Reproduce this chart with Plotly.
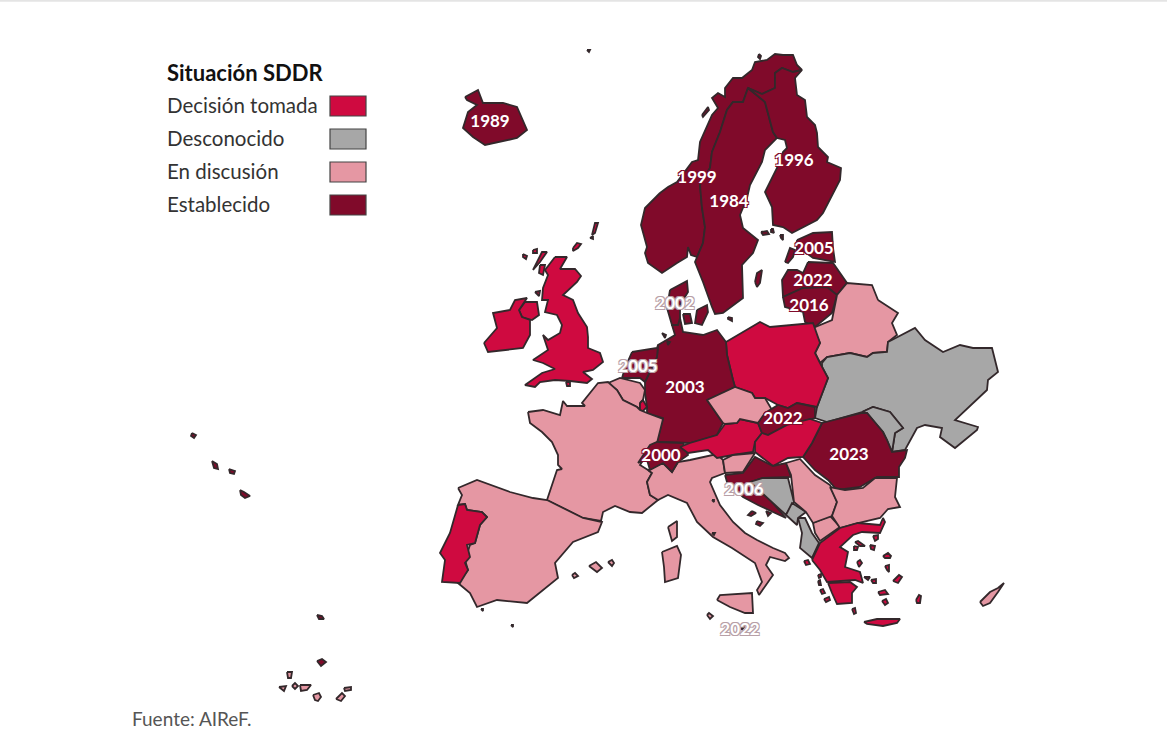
import plotly.graph_objects as go

# ---- categories and colours
STATUS_NAMES = ["Decisión tomada", "Desconocido", "En discusión", "Establecido"]
STATUS_COLORS = ["#CF0A40", "#A7A7A7", "#E597A3", "#800A2A"]
D, U, P, E = STATUS_NAMES

# ---- country outlines in map units
ICELAND = [(465,97),(478,90),(483,103),(503,103),(517,107),(527,130),(517,138),(485,145),(473,137),(463,128),(468,112),(477,105),(467,100)]
NORWAY = [(660,193),(668,187),(677,182),(692,162),(698,160),(700,142),(712,115),(718,108),(712,98),(718,93),(725,97),(725,88),(733,78),(742,78),(752,70),(755,62),(767,60),(775,54),(783,55),(793,55),(797,65),(802,70),(793,72),(782,68),(775,73),(775,88),(762,94),(748,88),(743,102),(733,102),(727,110),(720,132),(712,152),(710,168),(700,185),(702,208),(705,227),(703,243),(697,257),(691,255),(688,247),(687,257),(677,263),(662,273),(648,263),(645,253),(647,247),(641,225),(645,208),(655,198)]
SWEDEN = [(748,88),(765,102),(773,132),(777,138),(765,150),(762,162),(750,185),(747,198),(740,215),(743,228),(758,240),(753,253),(742,265),(743,298),(723,313),(715,314),(712,307),(703,282),(695,262),(697,257),(703,243),(705,227),(702,208),(700,185),(710,168),(712,152),(720,132),(727,110),(733,102),(743,102)]
FINLAND = [(802,70),(795,78),(797,95),(805,100),(807,117),(815,125),(817,133),(818,147),(828,157),(827,162),(841,168),(840,180),(823,213),(817,220),(792,233),(783,227),(773,225),(772,207),(765,192),(767,188),(777,168),(783,152),(787,148),(785,140),(777,138),(773,132),(765,102),(748,88),(762,94),(775,88),(775,73),(782,68),(793,72)]
ESTONIA = [(797,240),(813,233),(832,232),(833,248),(835,262),(813,258),(805,252),(797,250)]
LATVIA = [(808,262),(833,263),(847,283),(837,295),(827,287),(803,288),(783,297),(782,280),(788,270),(797,270),(803,273)]
LITHUANIA = [(783,297),(803,288),(827,287),(837,295),(832,313),(815,327),(805,322),(803,312),(785,307)]
BELARUS = [(878,300),(898,313),(892,323),(897,335),(888,342),(887,352),(873,353),(867,357),(850,353),(827,357),(820,363),(815,353),(820,343),(813,328),(832,320),(837,295),(847,283),(872,285)]
UKRAINE = [(822,363),(827,357),(850,353),(867,357),(873,353),(887,352),(888,342),(915,328),(925,340),(943,352),(960,345),(973,348),(992,348),(998,372),(988,380),(987,390),(955,420),(978,427),(977,430),(955,448),(940,437),(942,428),(925,425),(917,428),(905,450),(892,452),(895,433),(903,428),(890,412),(873,407),(862,412),(827,422),(815,418),(817,407),(828,378),(822,367)]
MOLDOVA = [(862,412),(873,407),(890,412),(903,428),(895,433),(892,452),(887,440),(883,432),(877,425),(867,413)]
ROMANIA = [(822,423),(862,413),(867,413),(877,425),(883,432),(887,440),(892,452),(907,450),(905,458),(899,467),(899,477),(877,477),(860,487),(837,490),(828,480),(815,470),(803,457),(812,443)]
POLAND = [(726,342),(760,322),(770,327),(813,323),(820,343),(815,353),(820,363),(822,367),(828,378),(817,407),(797,403),(788,408),(778,405),(765,398),(755,398),(752,393),(735,387),(733,380),(727,355)]
GERMANY = [(726,342),(717,330),(703,335),(683,332),(680,318),(672,325),(675,335),(658,345),(657,357),(645,382),(645,393),(647,407),(647,413),(663,418),(657,442),(690,443),(717,435),(723,423),(707,400),(735,387),(733,380),(727,355)]
DENMARK = [(670,290),(687,281),(688,292),(680,305),(680,318),(678,325),(672,325),(667,308)]
ZEALAND = [(697,310),(707,305),(708,312),(702,325),(695,323)]
FUNEN = [(683,314),(690,314),(692,323),(685,324)]
NETHERLANDS = [(632,352),(657,348),(658,345),(657,357),(645,382),(640,378),(622,378),(625,368)]
BELGIUM = [(608,383),(620,378),(640,383),(645,390),(643,400),(640,403),(640,410),(637,407),(623,400),(617,390)]
LUXEMBOURG = [(640,403),(643,400),(647,407),(643,411),(640,410)]
FRANCE = [(528,412),(543,410),(560,415),(563,401),(567,406),(585,406),(582,403),(598,383),(608,382),(617,390),(623,400),(637,407),(640,410),(647,413),(663,419),(658,437),(657,443),(648,452),(640,465),(648,470),(652,473),(647,482),(650,495),(658,500),(642,513),(630,512),(615,506),(603,512),(601,521),(583,518),(573,513),(547,500),(557,470),(562,469),(558,465),(558,455),(552,442),(542,432),(530,423)]
SPAIN = [(458,488),(477,480),(510,492),(533,498),(547,500),(573,513),(583,518),(602,522),(598,532),(573,542),(555,563),(558,578),(527,603),(497,600),(477,607),(470,593),(458,583),(468,570),(465,560),(470,545),(475,543),(480,525),(487,517),(482,512),(467,510),(465,504),(458,505),(462,495)]
PORTUGAL = [(458,505),(465,504),(467,510),(482,512),(487,517),(480,525),(475,543),(467,545),(470,557),(465,563),(468,570),(460,583),(442,582),(445,560),(440,553),(450,533)]
ITALY = [(648,470),(663,463),(672,472),(678,462),(690,460),(717,454),(723,460),(725,473),(712,478),(710,482),(720,505),(733,522),(745,533),(757,540),(773,548),(785,553),(789,558),(785,561),(770,557),(766,565),(773,575),(759,595),(757,590),(762,582),(755,563),(732,548),(713,537),(697,522),(687,503),(668,495),(658,500),(650,495),(647,482),(652,473)]
SICILY = [(717,600),(720,595),(752,593),(753,613),(745,613),(730,607)]
CORSICA = [(668,527),(677,521),(677,537),(672,541)]
SARDINIA = [(662,552),(677,546),(681,555),(678,578),(665,582),(664,567)]
MALLORCA = [(589,566),(596,562),(602,568),(597,572)]
SWITZERLAND = [(638,463),(650,445),(657,442),(683,443),(688,455),(678,462),(672,472),(663,463),(650,470),(647,460)]
AUSTRIA = [(680,447),(690,443),(717,435),(725,424),(737,423),(740,419),(758,423),(762,433),(755,442),(753,452),(733,455),(717,458),(708,450),(688,453)]
CZECHIA = [(707,400),(735,387),(752,393),(755,398),(765,398),(772,410),(758,423),(740,419),(737,423),(725,424),(723,423)]
SLOVAKIA = [(758,423),(765,413),(778,405),(788,408),(797,403),(815,407),(815,418),(807,420),(787,425),(768,435),(762,433)]
HUNGARY = [(762,433),(768,435),(787,425),(810,419),(822,423),(812,443),(803,457),(788,458),(773,466),(755,452),(755,442)]
SLOVENIA = [(723,460),(733,455),(755,453),(743,472),(725,473)]
CROATIA = [(725,475),(743,473),(755,457),(773,466),(786,463),(791,477),(763,478),(750,482),(770,500),(786,518),(758,505),(743,497),(727,482)]
BOSNIA = [(750,482),(763,478),(788,478),(794,502),(786,515),(770,500)]
MONTENEGRO = [(786,515),(792,503),(806,512),(798,518),(797,525)]
ALBANIA = [(798,518),(805,518),(812,533),(819,543),(812,558),(800,548),(802,533)]
MACEDONIA = [(813,523),(830,516),(840,527),(820,541),(815,533)]
SERBIA = [(786,463),(800,459),(815,475),(830,485),(837,502),(832,516),(813,523),(806,512),(794,502),(791,475)]
BULGARIA = [(830,487),(845,490),(863,488),(875,478),(897,478),(895,497),(900,507),(888,509),(880,518),(858,523),(840,528),(832,516),(837,502)]
GREECE = [(812,560),(820,543),(840,528),(858,523),(880,525),(883,518),(885,522),(880,533),(862,532),(853,535),(840,547),(848,552),(845,567),(860,572),(863,583),(855,580),(827,582),(820,570)]
PELOPONNESE = [(828,583),(850,582),(857,587),(852,593),(852,603),(837,604),(832,593)]
CRETE = [(864,622),(877,619),(900,619),(897,623),(883,626),(867,624)]
CYPRUS = [(980,602),(990,592),(998,588),(1004,583),(998,592),(990,603),(983,606)]
GREAT_BRITAIN = [(555,257),(567,257),(560,269),(575,269),(581,276),(577,282),(563,295),(573,300),(578,313),(587,327),(588,337),(588,348),(600,353),(603,362),(593,370),(583,372),(592,379),(587,383),(570,381),(555,380),(540,382),(535,387),(525,385),(542,373),(555,369),(543,363),(533,360),(548,350),(543,335),(548,340),(560,333),(562,325),(557,315),(545,312),(548,300),(542,300),(543,288),(548,275),(545,270)]
N_IRELAND = [(519,310),(525,302),(537,302),(539,315),(532,320),(522,317)]
IRELAND = [(484,343),(497,328),(493,313),(510,310),(515,300),(527,298),(519,310),(522,317),(530,320),(530,335),(523,348),(488,352)]
SCOT_ISLES = [
    [(533,270),(542,252),(547,252),(540,262)],
    [(540,265),(545,265),(543,275),(539,273)],
    [(533,250),(537,249),(537,253),(533,253)],
    [(523,254),(527,256),(526,259),(523,257)],
    [(535,292),(540,291),(539,296)],
    [(573,248),(577,243),(581,244),(578,248),(573,251)],
    [(592,235),(595,223),(598,223),(595,233)],
    [(590,238),(593,236),(593,239)],
    [(566,382),(570,382),(570,386),(567,386)],
]
NORDIC_ISLES = [
    [(702,115),(708,107),(709,110),(703,117)],
    [(759,54),(761,56),(760,59),(758,57)],
    [(587,50),(590,50),(589,52)],
    [(761,232),(767,231),(769,234),(763,235)],
    [(771,229),(773,229),(774,233),(771,232)],
    [(780,235),(783,235),(783,240),(781,238)],
    [(755,282),(757,273),(762,270),(760,283),(757,287)],
    [(785,262),(790,248),(795,250),(793,257),(788,263)],
    [(728,317),(732,318),(732,321),(728,319)],
    [(662,333),(666,335),(665,338)],
    [(667,341),(670,342),(668,345)],
    [(752,511),(756,513),(751,516),(748,515)],
    [(766,511),(771,513),(768,516)],
    [(757,521),(763,523),(760,526),(756,524)],
    [(192,433),(196,435),(194,438),(191,436)],
    [(212,461),(217,464),(218,469),(214,468)],
    [(229,469),(235,471),(234,474),(230,473)],
    [(240,490),(244,492),(250,496),(245,498),(241,495)],
    [(317,615),(322,616),(324,619),(319,619)],
    [(317,661),(322,659),(326,662),(321,666)],
    [(741,626),(744,627),(742,630)],
    [(481,609),(483,609),(483,611)],
    [(511,625),(513,625),(513,627)],
    [(712,500),(714,500),(714,502)],
    [(712,533),(715,533),(714,535)],
]
SPAIN_ISLES = [
    [(608,562),(612,560),(614,563),(612,566)],
    [(572,575),(575,573),(578,576),(574,578)],
    [(707,615),(709,613),(713,616),(710,619)],
    [(287,672),(292,672),(291,678),(288,678)],
    [(279,687),(286,686),(284,691)],
    [(292,686),(295,683),(298,686),(295,689)],
    [(300,685),(311,685),(307,690),(301,691)],
    [(313,695),(319,693),(321,697),(318,701),(315,700)],
    [(336,699),(342,693),(345,696),(341,701)],
    [(344,688),(351,687),(351,690),(345,691)],
]
GREEK_ISLES = [
    [(873,536),(878,535),(878,539),(875,541)],
    [(855,542),(858,541),(865,546),(860,546)],
    [(854,546),(858,547),(857,550),(854,550)],
    [(870,545),(875,546),(874,550),(871,549)],
    [(883,556),(888,553),(891,556),(890,558),(885,558)],
    [(857,562),(860,560),(862,563),(859,567)],
    [(885,566),(889,565),(889,572),(887,570)],
    [(893,581),(899,575),(902,577),(898,583)],
    [(864,577),(870,577),(868,580)],
    [(871,580),(876,579),(876,583),(873,583)],
    [(878,592),(885,590),(888,594),(880,595)],
    [(882,601),(886,599),(888,603),(885,605)],
    [(916,600),(919,595),(921,596),(920,603),(917,603)],
    [(852,609),(855,608),(856,613),(854,614)],
    [(824,599),(829,597),(830,600),(826,602)],
    [(820,590),(823,589),(825,593),(822,594)],
    [(818,581),(820,580),(821,585),(819,585)],
    [(818,575),(821,574),(821,577),(819,578)],
    [(804,561),(808,560),(810,564),(806,565)],
]

OUTLINES = [
    (ICELAND, E), (NORWAY, E), (SWEDEN, E), (FINLAND, E), (ESTONIA, E), (LATVIA, E), (LITHUANIA, E),
    (BELARUS, P), (UKRAINE, U), (MOLDOVA, U), (ROMANIA, E), (POLAND, D), (GERMANY, E), (DENMARK, E),
    (ZEALAND, E), (FUNEN, E), (NETHERLANDS, E), (BELGIUM, P), (LUXEMBOURG, D), (FRANCE, P), (SPAIN, P),
    (PORTUGAL, D), (ITALY, P), (SICILY, P), (CORSICA, P), (SARDINIA, P), (MALLORCA, P), (SWITZERLAND, E),
    (AUSTRIA, D), (CZECHIA, P), (SLOVAKIA, E), (HUNGARY, D), (SLOVENIA, P), (CROATIA, E), (BOSNIA, U),
    (MONTENEGRO, U), (ALBANIA, U), (MACEDONIA, P), (SERBIA, P), (BULGARIA, P), (GREECE, D), (PELOPONNESE, D),
    (CRETE, D), (CYPRUS, P), (GREAT_BRITAIN, D), (N_IRELAND, D), (IRELAND, D),
]
OUTLINES += [(s, D) for s in SCOT_ISLES] + [(s, E) for s in NORDIC_ISLES]
OUTLINES += [(s, P) for s in SPAIN_ISLES] + [(s, D) for s in GREEK_ISLES]

# ---- year labels inside a country
LABEL_TEXT = ["1989","1999","1984","1996","2005","2022","2016","2003","2022","2000","2023"]
LABEL_X = [490,697,729,794,814,813,809,685,783,661,849]
LABEL_Y = [123,179,203,162,250,282,307,389,420,457,456]
# ---- year labels over the sea
SEA_LABEL_TEXT = ["2002","2005","2006","2022"]
SEA_LABEL_X = [675,638,744,740]
SEA_LABEL_Y = [305,368,491,631]

LINE = "#33282B"
TEXT_FONT = "Lato"
COLOR_OF = dict(zip(STATUS_NAMES, STATUS_COLORS))

fig = go.Figure()
for poly, status in OUTLINES:
    xs = [p[0] for p in poly] + [poly[0][0]]
    ys = [p[1] for p in poly] + [poly[0][1]]
    fig.add_trace(go.Scatter(x=xs, y=ys, mode="lines", fill="toself", fillcolor=COLOR_OF[status],
                             line=dict(color=LINE, width=1.8), name=status, showlegend=False,
                             hoverinfo="name"))


def halo(c):
    return f"1px 1px 0 {c}, -1px 1px 0 {c}, 1px -1px 0 {c}, -1px -1px 0 {c}"


fig.add_trace(go.Scatter(x=LABEL_X, y=LABEL_Y, mode="text", text=LABEL_TEXT, showlegend=False, hoverinfo="skip",
                         textfont=dict(family=TEXT_FONT, size=17, color="white", weight="bold", shadow=halo("#800A2A"))))
fig.add_trace(go.Scatter(x=SEA_LABEL_X, y=SEA_LABEL_Y, mode="text", text=SEA_LABEL_TEXT, showlegend=False, hoverinfo="skip",
                         textfont=dict(family=TEXT_FONT, size=17, color="white", weight="bold", shadow=halo("#B8A0A7"))))

# ---- legend
SWATCH_Y = [106, 139, 172, 205]
LEGEND_TEXT_Y = [105, 138, 171, 204]
ann = [dict(x=165, y=72, text="<b>Situación SDDR</b>", font=dict(size=22, color="#111111", family=TEXT_FONT)),
       dict(x=130, y=718, text="Fuente: AIReF.", font=dict(size=19, color="#555555", family=TEXT_FONT))]
shapes = [dict(type="rect", xref="paper", yref="paper", x0=0, x1=1, y0=0.9975, y1=1,
               fillcolor="#E4E4E4", line=dict(width=0))]
for name, col, y, ty in zip(STATUS_NAMES, STATUS_COLORS, SWATCH_Y, LEGEND_TEXT_Y):
    ann.append(dict(x=165, y=ty, text=name, font=dict(size=20.5, color="#333333", family=TEXT_FONT)))
    shapes.append(dict(type="rect", x0=330, x1=366, y0=y-10, y1=y+10, fillcolor=col,
                       line=dict(color="#444444", width=1.2)))
for a in ann:
    a.update(xref="x", yref="y", xanchor="left", yanchor="middle", showarrow=False)

fig.update_layout(width=1167, height=737, margin=dict(l=0, r=0, t=0, b=0),
                  paper_bgcolor="white", plot_bgcolor="white", annotations=ann, shapes=shapes,
                  xaxis=dict(range=[0, 1167], visible=False, fixedrange=True),
                  yaxis=dict(range=[737, 0], visible=False, fixedrange=True))
fig.write_html("out.html", config={"displayModeBar": False},
               post_script="document.body.style.margin='0';")
